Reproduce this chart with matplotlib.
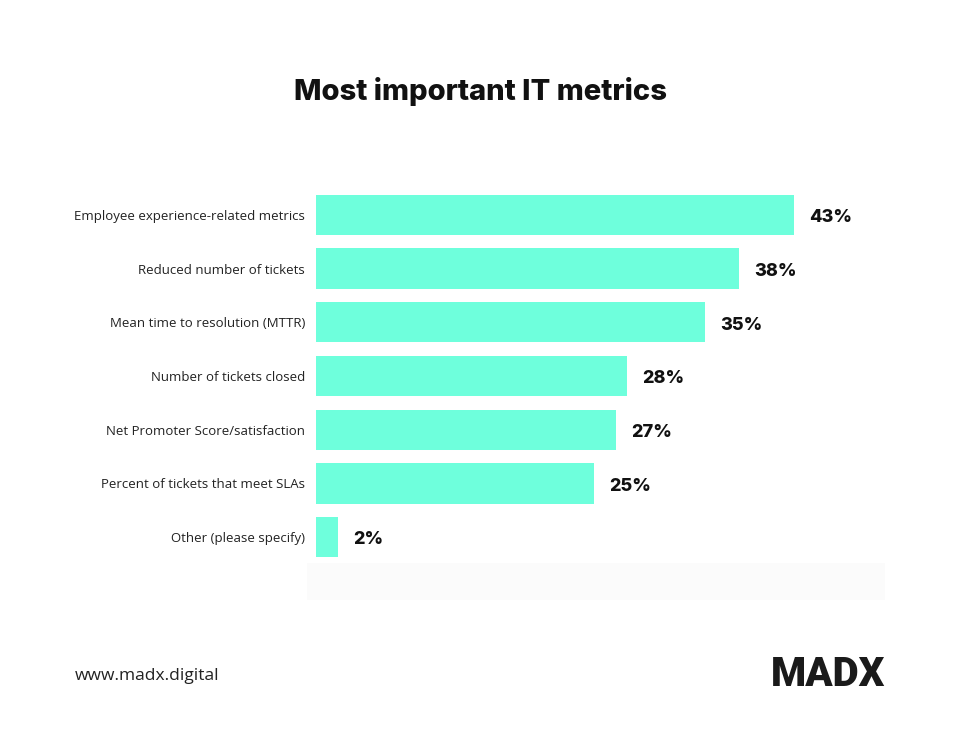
import matplotlib.pyplot as plt
from matplotlib.patches import Rectangle

# Данные
categories = ['Employee experience-related metrics', 'Reduced number of tickets',
              'Mean time to resolution (MTTR)', 'Number of tickets closed',
              'Net Promoter Score/satisfaction', 'Percent of tickets that meet SLAs',
              'Other (please specify)']
values = [43, 38, 35, 28, 27, 25, 2]
value_labels = ['{}%'.format(v) for v in values]

bar_color = '#6effdc'

fig = plt.figure(figsize=(9.6, 7.5), dpi=100)
fig.patch.set_facecolor('white')

# Светло-серая полоса под графиком
fig.patches.append(Rectangle((307 / 960, 1 - 600 / 750), (885 - 307) / 960, 37 / 750,
                             transform=fig.transFigure, facecolor='#fbfbfb',
                             edgecolor='none', zorder=0))

ax = fig.add_axes([316 / 960, 1 - 564 / 750, (885 - 316) / 960, (564 - 188) / 750])
ax.set_facecolor('none')

y = range(len(categories))
ax.barh(y, values, height=0.75, color=bar_color)
ax.set_xlim(0, (885 - 316) / 11.12)
ax.set_ylim(len(categories) - 0.5, -0.5)

for i, (v, lab) in enumerate(zip(values, value_labels)):
    ax.annotate(lab, (v, i), xytext=(11, -2), textcoords='offset points',
                ha='left', va='center', fontsize=13, fontweight='heavy',
                family='Inter', color='#111111')

ax.set_yticks(list(y))
ax.set_yticklabels(categories, fontsize=9.5, family='Open Sans', color='#222222')
ax.tick_params(axis='y', length=0, pad=8)
ax.set_xticks([])
for s in ax.spines.values():
    s.set_visible(False)

fig.text(0.5, 1 - 92 / 750, 'Most important IT metrics', ha='center', va='center',
         fontsize=21, fontweight='heavy', family='Inter', color='#111111')
fig.text(75 / 960, 1 - 676 / 750, 'www.madx.digital', ha='left', va='center',
         fontsize=12.5, family='Open Sans', color='#222222')
fig.text(885 / 960, 1 - 675 / 750, 'MADX', ha='right', va='center',
         fontsize=29, fontweight='heavy', family='Roboto', color='#1a1a1a')

fig.savefig('out.png', dpi=100, facecolor='white')
